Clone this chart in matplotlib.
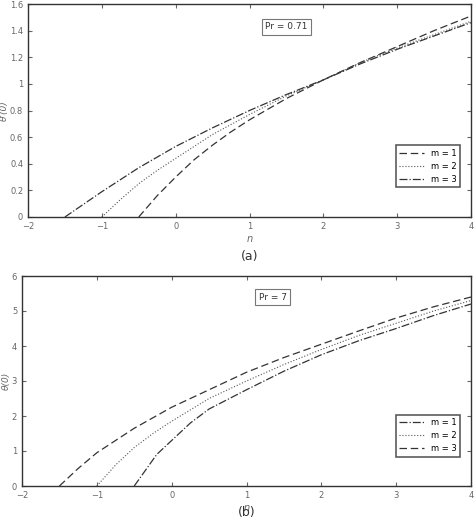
import matplotlib
matplotlib.use("Agg")
import matplotlib.pyplot as plt

# (a) Pr = 0.71
a_m1_x = [-0.5, -0.25, 0, 0.25, 0.5, 0.75, 1, 1.5, 2, 2.5, 3, 3.5, 4]
a_m1_y = [0, 0.16, 0.30, 0.43, 0.54, 0.64, 0.73, 0.89, 1.03, 1.16, 1.28, 1.40, 1.51]
a_m2_x = [-1, -0.75, -0.5, -0.25, 0, 0.5, 1, 1.5, 2, 2.5, 3, 3.5, 4]
a_m2_y = [0, 0.13, 0.25, 0.35, 0.44, 0.62, 0.77, 0.91, 1.03, 1.16, 1.27, 1.37, 1.47]
a_m3_x = [-1.5, -1, -0.5, 0, 0.5, 1, 1.5, 2, 2.5, 3, 3.5, 4]
a_m3_y = [0, 0.19, 0.37, 0.53, 0.67, 0.80, 0.92, 1.03, 1.15, 1.26, 1.36, 1.46]

# (b) Pr = 7
b_m1_x = [-0.5, -0.2, 0, 0.25, 0.5, 1, 1.5, 2, 2.5, 3, 3.5, 4]
b_m1_y = [0, 0.9, 1.3, 1.8, 2.2, 2.75, 3.28, 3.75, 4.15, 4.5, 4.87, 5.2]
b_m2_x = [-1, -0.75, -0.5, -0.25, 0, 0.5, 1, 1.5, 2, 2.5, 3, 3.5, 4]
b_m2_y = [0, 0.6, 1.1, 1.5, 1.85, 2.5, 3.0, 3.47, 3.9, 4.3, 4.65, 5.0, 5.3]
b_m3_x = [-1.5, -1.25, -1, -0.5, 0, 0.5, 1, 1.5, 2, 2.5, 3, 3.5, 4]
b_m3_y = [0, 0.5, 0.95, 1.65, 2.25, 2.75, 3.25, 3.67, 4.05, 4.43, 4.8, 5.12, 5.4]

fig = plt.figure(figsize=(4.74, 5.27), dpi=100)
gray = '#555555'
tc = '#666666'

def style(ax, ylim, yticks):
    ax.set_xlim(-2, 4)
    ax.set_ylim(*ylim)
    ax.set_xticks(range(-2, 5))
    ax.set_yticks(yticks)
    ax.set_yticklabels([f"{t:g}" for t in yticks])
    ax.tick_params(labelsize=6, colors=tc, direction='in', length=3, top=True, right=True)
    for s in ax.spines.values():
        s.set_linewidth(1.0)
        s.set_color('#333333')
    ax.set_xlabel('n', style='italic', fontsize=7, color=tc, labelpad=2)

ax1 = fig.add_axes([28/474, 1 - 217/527, 443/474, 213/527])
ax1.plot(a_m1_x, a_m1_y, ls=(0, (6, 3)), color='#333333', lw=0.9, label='m = 1')
ax1.plot(a_m2_x, a_m2_y, ls=':', color=gray, lw=0.8, label='m = 2')
ax1.plot(a_m3_x, a_m3_y, ls='-.', color='#333333', lw=0.9, label='m = 3')
style(ax1, (0, 1.6), [0, 0.2, 0.4, 0.6, 0.8, 1, 1.2, 1.4, 1.6])
ax1.set_ylabel("θ'(0)", style='italic', fontsize=6.5, color=tc, labelpad=1)
ax1.text(1.5, 1.43, 'Pr = 0.71', fontsize=6.5, color='#333333', ha='center', va='center',
         bbox=dict(boxstyle='square,pad=0.4', fc='white', ec='#777777', lw=0.8))
leg = ax1.legend(loc='lower right', fontsize=6, frameon=True, fancybox=False,
                 edgecolor='#333333', bbox_to_anchor=(0.985, 0.12), handlelength=3)
leg.get_frame().set_linewidth(1.2)
ax1.text(0.5, -0.2, '(a)', transform=ax1.transAxes, ha='center', fontsize=9, color='#333333')

ax2 = fig.add_axes([22/474, 1 - 486/527, 449/474, 210/527])
ax2.plot(b_m1_x, b_m1_y, ls='-.', color='#333333', lw=0.9, label='m = 1')
ax2.plot(b_m2_x, b_m2_y, ls=':', color=gray, lw=0.8, label='m = 2')
ax2.plot(b_m3_x, b_m3_y, ls=(0, (6, 3)), color='#333333', lw=0.9, label='m = 3')
style(ax2, (0, 6), [0, 1, 2, 3, 4, 5, 6])
ax2.set_ylabel("θ(0)", style='italic', fontsize=6.5, color=tc, labelpad=1)
ax2.text(1.35, 5.4, 'Pr = 7', fontsize=6.5, color='#333333', ha='center', va='center',
         bbox=dict(boxstyle='square,pad=0.4', fc='white', ec='#777777', lw=0.8))
leg2 = ax2.legend(loc='lower right', fontsize=6, frameon=True, fancybox=False,
                  edgecolor='#333333', bbox_to_anchor=(0.985, 0.12), handlelength=3)
leg2.get_frame().set_linewidth(1.2)
ax2.text(0.5, -0.145, '(b)', transform=ax2.transAxes, ha='center', fontsize=9, color='#333333')

fig.savefig('out.png', dpi=100)
